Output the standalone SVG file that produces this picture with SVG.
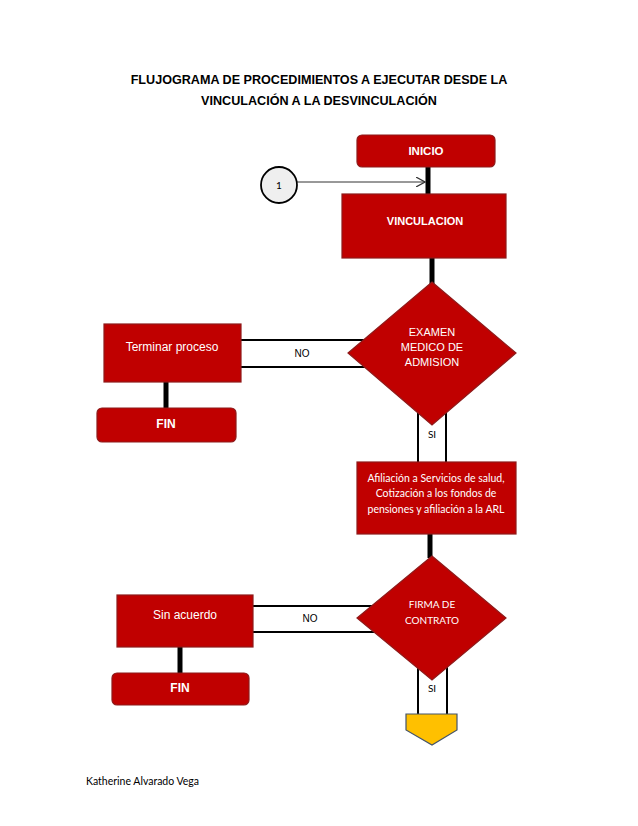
<svg xmlns="http://www.w3.org/2000/svg" width="638" height="826" viewBox="0 0 638 826">
<defs>
<style>
.red{fill:#C00000;stroke:#8E1A1A;stroke-width:1.2}
.wt{fill:#fff;font-family:"Liberation Sans",Arial,sans-serif;text-anchor:middle}
.b{font-weight:bold}
.cal{fill:#fff;font-family:Lato,"Open Sans",sans-serif;text-anchor:middle}
.thick{stroke:#000;stroke-width:5;fill:none}
.thin{stroke:#000;stroke-width:2;fill:none}
.lbl{fill:#000;font-size:10px;text-anchor:middle}
</style>
<marker id="arr" viewBox="0 0 10 10" refX="9" refY="5" markerWidth="10" markerHeight="10" markerUnits="userSpaceOnUse" orient="auto">
<path d="M0,0 L9,5 L0,10" fill="none" stroke="#333" stroke-width="1.2"/>
</marker>
</defs>
<rect width="638" height="826" fill="#fff"/>
<g id="title" font-family="'Liberation Sans',Arial,sans-serif" font-weight="bold" font-size="12.6" text-anchor="middle" fill="#000">
<text x="319" y="84">FLUJOGRAMA DE PROCEDIMIENTOS A EJECUTAR DESDE LA</text>
<text x="319" y="105">VINCULACIÓN A LA DESVINCULACIÓN</text>
</g>
<g id="connectors">
<line class="thick" x1="428" y1="167" x2="428" y2="195"/>
<line x1="297" y1="182" x2="425" y2="182" stroke="#333" stroke-width="1" marker-end="url(#arr)"/>
<line class="thick" x1="432" y1="258" x2="432" y2="284"/>
<line class="thin" x1="241" y1="340" x2="368" y2="340"/>
<line class="thin" x1="241" y1="367" x2="368" y2="367"/>
<text class="lbl" x="302" y="357" font-family="'Liberation Sans',Arial,sans-serif">NO</text>
<line class="thick" x1="166" y1="382" x2="166" y2="409"/>
<line class="thin" x1="418" y1="405" x2="418" y2="463"/>
<line class="thin" x1="446" y1="405" x2="446" y2="463"/>
<text class="lbl" x="432" y="438" font-family="Lato,'Open Sans',sans-serif">SI</text>
<line class="thick" x1="430" y1="534" x2="430" y2="558"/>
<line class="thin" x1="253" y1="606" x2="375" y2="606"/>
<line class="thin" x1="253" y1="632" x2="375" y2="632"/>
<text class="lbl" x="310" y="622" font-family="'Liberation Sans',Arial,sans-serif">NO</text>
<line class="thick" x1="180" y1="647" x2="180" y2="674"/>
<line class="thin" x1="418" y1="665" x2="418" y2="715"/>
<line class="thin" x1="447" y1="665" x2="447" y2="715"/>
<text class="lbl" x="432" y="692" font-family="Lato,'Open Sans',sans-serif">SI</text>
</g>
<g id="inicio">
<rect class="red" x="357" y="135" width="138" height="32" rx="5"/>
<text class="wt b" x="426" y="155" font-size="11.5">INICIO</text>
</g>
<g id="conector1">
<circle cx="279" cy="185" r="18" fill="#efefef" stroke="#000" stroke-width="1.8"/>
<text x="279" y="189" font-family="Lato,sans-serif" font-size="10" text-anchor="middle" fill="#000">1</text>
</g>
<g id="vinculacion">
<rect class="red" x="342" y="194" width="164" height="64"/>
<text class="wt b" x="425" y="225" font-size="11">VINCULACION</text>
</g>
<g id="examen">
<polygon class="red" points="432,282 516,353 432,425 348,353"/>
<text class="wt" x="432" y="336" font-size="11">EXAMEN</text>
<text class="wt" x="432" y="351" font-size="11">MEDICO DE</text>
<text class="wt" x="432" y="366" font-size="11">ADMISION</text>
</g>
<g id="terminar">
<rect class="red" x="104" y="324" width="137" height="58"/>
<text class="wt" x="172" y="351" font-size="12">Terminar proceso</text>
</g>
<g id="fin1">
<rect class="red" x="97" y="408" width="139" height="34" rx="5"/>
<text class="wt b" x="166" y="428" font-size="12">FIN</text>
</g>
<g id="afiliacion">
<rect class="red" x="357" y="462" width="159" height="72"/>
<text class="cal" x="436" y="482" font-size="10.5">Afiliación a Servicios de salud,</text>
<text class="cal" x="436" y="497" font-size="10.5">Cotización a los fondos de</text>
<text class="cal" x="436" y="513" font-size="10.5">pensiones y afiliación a la ARL</text>
</g>
<g id="firma">
<polygon class="red" points="432,556 506,618 432,680 357,618"/>
<text class="cal" x="432" y="608" font-size="10">FIRMA DE</text>
<text class="cal" x="432" y="624" font-size="10">CONTRATO</text>
</g>
<g id="sinacuerdo">
<rect class="red" x="117" y="595" width="136" height="52"/>
<text class="wt" x="185" y="619" font-size="12">Sin acuerdo</text>
</g>
<g id="fin2">
<rect class="red" x="112" y="673" width="137" height="32" rx="5"/>
<text class="wt b" x="180" y="692" font-size="12">FIN</text>
</g>
<g id="offpage">
<polygon points="406,714 457,714 457,730 432,745 406,730" fill="#FFC000" stroke="#44546A" stroke-width="1.2"/>
</g>
<g id="footer">
<text x="86" y="785" font-family="Lato,'Open Sans',sans-serif" font-size="10.5" fill="#000">Katherine Alvarado Vega</text>
</g>
</svg>
